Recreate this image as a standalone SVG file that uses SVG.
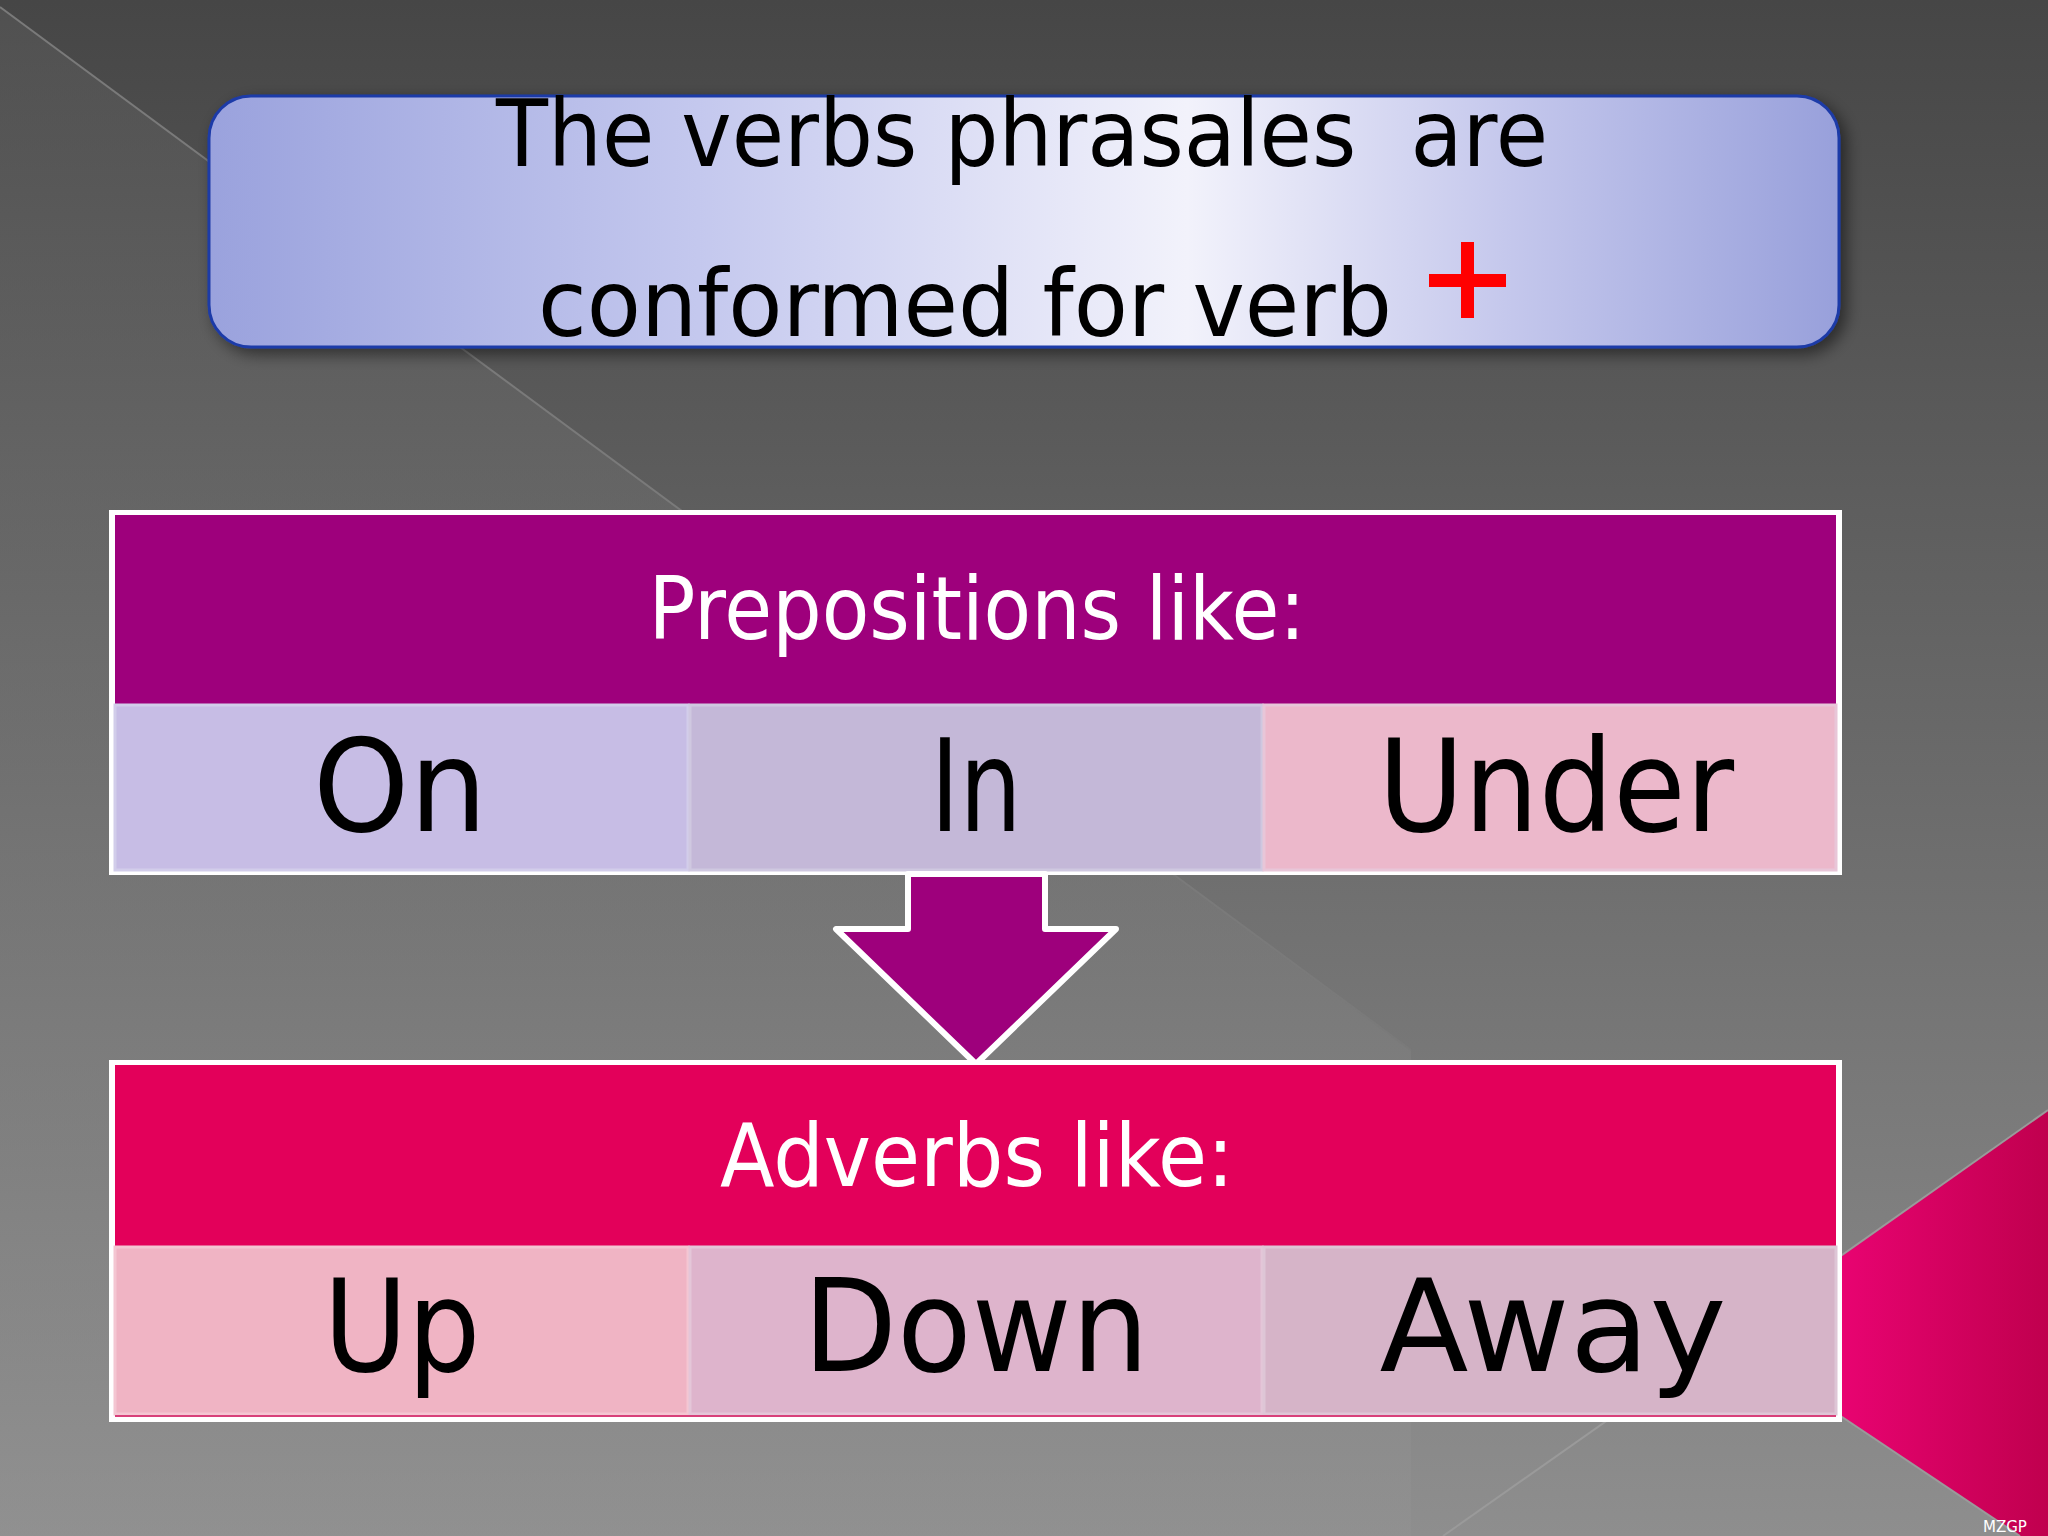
<svg xmlns="http://www.w3.org/2000/svg" width="2048" height="1536" viewBox="0 0 2048 1536">
<style>
.t{font-family:"DejaVu Sans","Liberation Sans",sans-serif;}
.big{font-size:128px;fill:#000;text-anchor:middle;}
.hd{font-size:88px;fill:#fff;text-anchor:middle;}
.top{font-size:92px;fill:#000;}
.frame{fill:#fff;}
</style>
<defs>
<linearGradient id="bg" x1="0" y1="0" x2="0" y2="1">
<stop offset="0" stop-color="#464646"/>
<stop offset="1" stop-color="#8e8e8e"/>
</linearGradient>
<linearGradient id="bg2" x1="0" y1="0" x2="0" y2="1">
<stop offset="0" stop-color="#575757"/>
<stop offset="1" stop-color="#929292"/>
</linearGradient>
<linearGradient id="boxg" x1="0" y1="0" x2="1" y2="0">
<stop offset="0" stop-color="#9aa2dd"/>
<stop offset="0.3" stop-color="#c4c8ee"/>
<stop offset="0.6" stop-color="#f2f2fb"/>
<stop offset="0.8" stop-color="#c4c7ec"/>
<stop offset="1" stop-color="#98a0db"/>
</linearGradient>
<linearGradient id="pink" x1="0" y1="0" x2="1" y2="0">
<stop offset="0" stop-color="#ff0585"/>
<stop offset="1" stop-color="#c0004e"/>
</linearGradient>
<filter id="sh" x="-5%" y="-20%" width="115%" height="150%">
<feGaussianBlur in="SourceAlpha" stdDeviation="8"/>
<feOffset dx="6" dy="6"/>
<feComponentTransfer><feFuncA type="linear" slope="0.5"/></feComponentTransfer>
<feMerge><feMergeNode/><feMergeNode in="SourceGraphic"/></feMerge>
</filter>
</defs>

<g id="background">
<rect x="0" y="0" width="2048" height="1536" fill="url(#bg)"/>
<polygon points="0,7 1411,1050 1411,1536 0,1536" fill="url(#bg2)" opacity="0.6"/>
<line x1="0" y1="7" x2="1411" y2="1050" stroke="#7a7a7a" stroke-width="2"/>
<polygon points="2048,1110 1724,1338 2020,1536 2048,1536" fill="url(#pink)"/>
<line x1="2048" y1="1110" x2="1443" y2="1536" stroke="#9a9a9a" stroke-width="2"/>
<line x1="1724" y1="1338" x2="2020" y2="1536" stroke="#9a9a9a" stroke-width="2"/>
</g>

<g id="title">
<rect x="209" y="96" width="1630" height="251" rx="42" ry="42" fill="url(#boxg)" stroke="#1c3aa8" stroke-width="3" filter="url(#sh)"/>
<text class="t top" x="496" y="166" textLength="1052" lengthAdjust="spacingAndGlyphs">The verbs phrasales&#160; are</text>
<text class="t top" x="538" y="336" textLength="854" lengthAdjust="spacingAndGlyphs">conformed for verb</text>
<g id="plus" fill="#ff0000">
<rect x="1461" y="242" width="13" height="76"/>
<rect x="1429" y="274" width="77" height="13"/>
</g>
</g>

<g id="prepositions">
<rect class="frame" x="109" y="510" width="1733" height="365"/>
<rect x="115" y="515" width="1721" height="190" fill="#9e007c"/>
<text class="t hd" x="977" y="639" textLength="657" lengthAdjust="spacingAndGlyphs">Prepositions like:</text>
<g id="cell-on"><rect x="115" y="705" width="573" height="165" fill="#c7bde5" stroke="#d2cdea" stroke-width="3"/>
<text class="t big" x="400" y="831" textLength="174" lengthAdjust="spacingAndGlyphs">On</text></g>
<g id="cell-in"><rect x="690" y="705" width="572" height="165" fill="#c4b8d8" stroke="#cfc8e0" stroke-width="3"/>
<text class="t big" x="976" y="831" textLength="91" lengthAdjust="spacingAndGlyphs">In</text></g>
<g id="cell-under"><rect x="1264" y="705" width="572" height="165" fill="#ecb8cb" stroke="#e8c6d8" stroke-width="3"/>
<text class="t big" x="1556" y="831" textLength="356" lengthAdjust="spacingAndGlyphs">Under</text></g>
</g>

<g id="connectors">
<polygon points="908,874 1045,874 1045,929 1116,929 976,1064 836,929 908,929" fill="#9e007c" stroke="#fff" stroke-width="6" stroke-linejoin="round"/>
</g>

<g id="adverbs">
<rect class="frame" x="109" y="1060" width="1733" height="362"/>
<rect x="115" y="1065" width="1721" height="182" fill="#e3005a"/>
<text class="t hd" x="977" y="1186" textLength="514" lengthAdjust="spacingAndGlyphs">Adverbs like:</text>
<g id="cell-up"><rect x="115" y="1247" width="573" height="167" fill="#f0b4c4" stroke="#f4c6d2" stroke-width="3"/>
<text class="t big" x="402" y="1371" textLength="157" lengthAdjust="spacingAndGlyphs">Up</text></g>
<g id="cell-down"><rect x="690" y="1247" width="572" height="167" fill="#deb4cc" stroke="#e4c6d8" stroke-width="3"/>
<text class="t big" x="976" y="1371" textLength="346" lengthAdjust="spacingAndGlyphs">Down</text></g>
<g id="cell-away"><rect x="1264" y="1247" width="572" height="167" fill="#d6b4c8" stroke="#dec6d6" stroke-width="3"/>
<text class="t big" x="1553" y="1371" textLength="347" lengthAdjust="spacingAndGlyphs">Away</text></g>
<line x1="115" y1="1416" x2="1836" y2="1416" stroke="#d8407a" stroke-width="2"/>
</g>

<text class="t" x="1983" y="1532" font-size="15" fill="#ffffff">MZGP</text>
</svg>
